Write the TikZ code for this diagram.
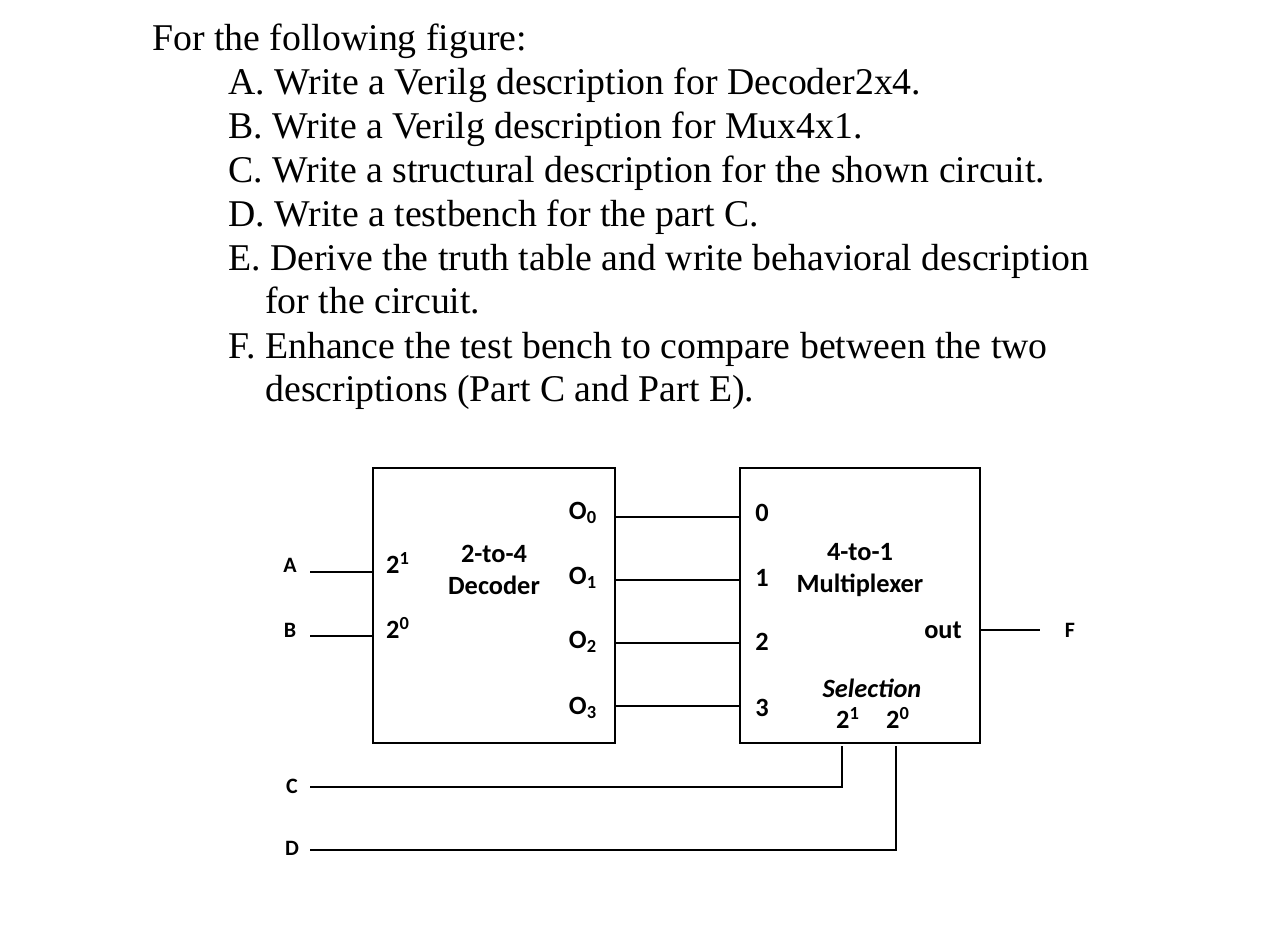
\documentclass[tikz,border=0pt]{standalone}
\usepackage{fontspec}
\setmainfont{Liberation Serif}
\newfontfamily\lbl{Carlito}
\begin{document}
\begin{tikzpicture}[x=0.02cm,y=-0.02cm,
  q/.style={anchor=base west,inner sep=0pt,font=\fontsize{21.5}{24}\selectfont},
  l/.style={inner sep=1pt,font=\lbl\bfseries\fontsize{15}{18}\selectfont},
  pin/.style={inner sep=1pt,font=\lbl\bfseries\fontsize{12.5}{14}\selectfont},
  w/.style={line width=1.3pt},
  box/.style={draw,line width=1.3pt}]
\useasboundingbox (0,0) rectangle (1284,952);
% question text
\node[q] at (152,51) {For the following figure:};
\node[q] at (228,95) {A. Write a Verilg description for Decoder2x4.};
\node[q] at (228,139) {B. Write a Verilg description for Mux4x1.};
\node[q] at (228,183) {C. Write a structural description for the shown circuit.};
\node[q] at (228,227) {D. Write a testbench for the part C.};
\node[q] at (228,271) {E. Derive the truth table and write behavioral description};
\node[q] at (265,314) {for the circuit.};
\node[q] at (228,359) {F. Enhance the test bench to compare between the two};
\node[q] at (265,402) {descriptions (Part C and Part E).};
% boxes
\draw[box] (373,468) rectangle (615,743);
\draw[box] (740,468) rectangle (980,743);
\node[l,align=center] at (494,570) {2-to-4\\Decoder};
\node[l,align=center] at (860,570) {4-to-1\\Multiplexer};
% decoder inputs
\node[pin] (A) at (290,565) {A};
\node[pin] (B) at (290,630) {B};
\node[l] at (398,563) {2\textsuperscript{1}};
\node[l] at (398,628) {2\textsuperscript{0}};
\draw[w] (310,572) -- (373,572);
\draw[w] (310,636) -- (373,636);
% decoder outputs and mux inputs
\foreach \i/\y/\ly in {0/517/513,1/580/578,2/643/642,3/706/708}{
  \node[l] at (583,\ly) {O\textsubscript{\i}};
  \node[l] at (762,\ly) {\i};
  \draw[w] (615,\y) -- (740,\y);
}
% output
\node[l] at (943,630) {out};
\draw[w] (980,630) -- (1040,630);
\node[pin] (F) at (1070,630) {F};
% selection
\node[l] at (872,688) {\itshape Selection};
\node[l] at (848,718) {2\textsuperscript{1}};
\node[l] at (898,718) {2\textsuperscript{0}};
\node[pin] (C) at (292,786) {C};
\node[pin] (D) at (292,848) {D};
\draw[w] (310,787) -- (842,787) -- (842,746);
\draw[w] (310,850) -- (896,850) -- (896,746);
\end{tikzpicture}
\end{document}
